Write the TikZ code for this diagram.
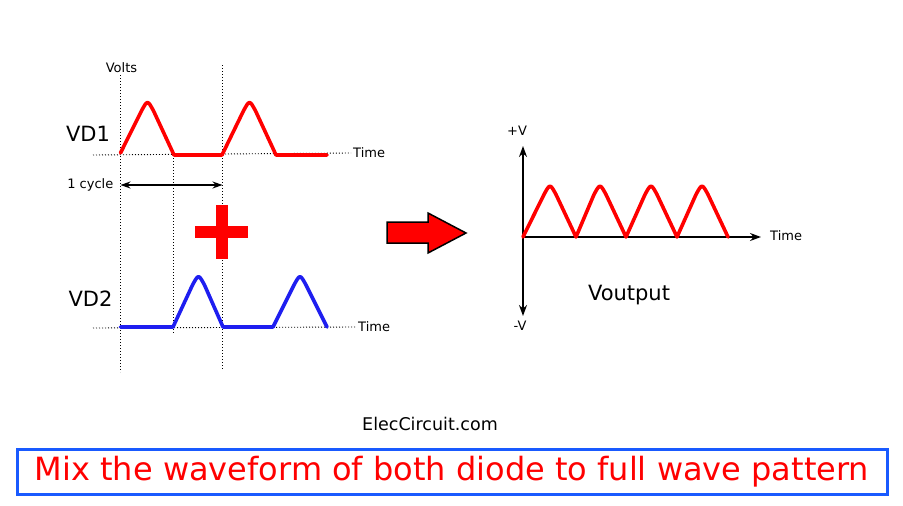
\documentclass[tikz,border=0pt]{standalone}
\usepackage{fontspec}
\setmainfont{DejaVu Sans}
\usetikzlibrary{arrows.meta}
\definecolor{wavered}{RGB}{255,0,0}
\definecolor{waveblue}{RGB}{30,30,240}
\definecolor{boxblue}{RGB}{25,90,255}

\begin{document}
\begin{tikzpicture}[x=1pt, y=-1pt,
  guide/.style={dash pattern=on 1pt off 2pt, line width=0.9pt},
  wave/.style={line width=3.6pt, line join=round, line cap=round},
  axis/.style={-{Stealth[length=11pt, width=8pt]}, line width=1.6pt},
  small/.style={font=\fontsize{13}{15}\selectfont, inner sep=0pt},
  big/.style={font=\fontsize{21}{24}\selectfont, inner sep=0pt}]
  \useasboundingbox (0,0) rectangle (903,506);

  \node[small] (volts) at (121.5,68) {Volts};
  \node[big] (VD1) at (88,134) {VD1};
  \node[big] (VD2) at (90.5,299) {VD2};
  \node[small, anchor=west] (T1) at (353,153) {Time};
  \node[small, anchor=west] (T2) at (358,327) {Time};
  \node[small, anchor=east] (cyc) at (113.5,185) {1 cycle};

  \coordinate (g1t) at (120.5,75);  \coordinate (g1b) at (120.5,372);
  \coordinate (g2t) at (173.5,155); \coordinate (g2b) at (173.5,333);
  \coordinate (g3t) at (222.5,65);  \coordinate (g3b) at (222.5,370);
  \coordinate (h1) at (93,155);     \coordinate (h2) at (93,328);
  \foreach \a/\b in {g1t/g1b, g2t/g2b, g3t/g3b}
    \draw[guide] (\a) -- (\b);
  \draw[guide] (h1) -- ([xshift=-2pt]T1.west);
  \draw[guide] (h2) -- ([xshift=-3pt]T2.west);

  \draw[{Stealth[length=10pt, width=7pt]}-{Stealth[length=10pt, width=7pt]}, line width=1.3pt]
    (g1t |- cyc) -- (g3t |- cyc);

  \draw[wave, wavered] (120.5,153) -- (141.5,110.8) .. controls (147.5,99.8) .. (153.5,110.8)
    -- (174,155) -- (222,155) -- (243.5,110.8) .. controls (249.5,99.8) .. (255.5,110.8)
    -- (276,155) -- (327,155);
  \draw[wave, waveblue] (120.5,327) -- (173,327) -- (192.5,285) .. controls (198.5,274) .. (204.5,285)
    -- (223,327) -- (273,327) -- (294,285) .. controls (300,274) .. (306,285)
    -- (327,327);

  \fill[wavered] (195,226) rectangle (248,238);
  \fill[wavered] (215.5,205) rectangle (228,259);

  \draw[fill=wavered, line width=1.5pt, line join=miter]
    (387,222) -- (428,222) -- (428,213) -- (466,233) -- (428,253) -- (428,243) -- (387,243) -- cycle;

  \node[small] (pV) at (517,131) {+V};
  \node[small] (mV) at (520,326) {-V};
  \node[small, anchor=west] (T3) at (770,236) {Time};
  \node[big] (vout) at (629,295) {Voutput};
  \coordinate (O) at (523,237);
  \coordinate (ytop) at (523,146);
  \coordinate (ybot) at (523,316);
  \draw[axis] (O) -- (ytop);
  \draw[axis] (O) -- (ybot);
  \draw[axis] (O) -- ([xshift=-9pt]T3.west |- O);
  \draw[wave, wavered] (O) \foreach \xp in {550,600,651,702}
    { -- (\xp-6,194.5) .. controls (\xp,183.5) .. (\xp+6,194.5) -- (\xp+26,237) };

  \node[font=\fontsize{17.5}{20}\selectfont, inner sep=0pt] (site) at (430,424) {ElecCircuit.com};
  \node[draw=boxblue, line width=3pt, minimum width=870pt, minimum height=45pt, inner sep=0pt,
    text=wavered, font=\fontsize{32}{36}\selectfont] (title) at (452,471.5)
    {Mix the waveform of both diode to full wave pattern};
\end{tikzpicture}
\end{document}
